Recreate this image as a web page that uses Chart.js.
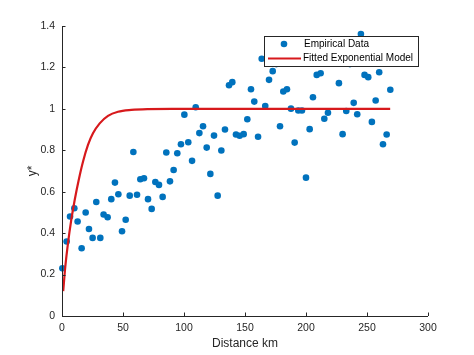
<!DOCTYPE html>
<html><head><meta charset="utf-8">
<style>html,body{margin:0;padding:0;background:#fff}#wrap{width:474px;height:355px}</style>
<script src="https://cdn.jsdelivr.net/npm/chart.js@4/dist/chart.umd.min.js"></script>
</head><body><div id="wrap"><canvas id="c" width="474" height="355"></canvas></div>
<script>
const empDistance = [0.3,3.8,6.6,10.1,12.8,16.1,19.4,22.1,25.1,28.1,31.4,34.1,37.4,40.4,43.4,46.2,49.2,52.2,55.5,58.5,61.5,64.2,67.2,70.5,73.5,76.5,79.5,82.5,85.5,88.5,91.5,94.5,97.5,100.3,103.5,106.6,109.6,112.6,115.6,118.6,121.6,124.6,127.6,130.6,133.6,136.9,139.6,142.6,145.6,148.9,151.9,154.9,157.6,160.7,163.7,166.6,169.7,172.7,175.7,178.7,181.4,184.4,187.7,190.7,193.7,196.7,200,203,205.7,208.8,212,215,218,227,230,233,236,239.1,242,245,248,251,254,257.1,260,263.1,266.1,269.1];
const empValue = [0.23,0.36,0.48,0.52,0.456,0.327,0.50,0.42,0.377,0.55,0.377,0.49,0.477,0.564,0.644,0.588,0.409,0.465,0.581,0.792,0.585,0.66,0.665,0.564,0.517,0.647,0.633,0.575,0.789,0.65,0.705,0.786,0.829,0.972,0.839,0.749,1.008,0.883,0.916,0.813,0.686,0.871,0.581,0.799,0.90,1.114,1.129,0.876,0.87,0.878,0.95,1.095,1.035,0.865,1.242,1.014,1.14,1.182,1.216,0.916,1.084,1.095,1.001,0.837,0.992,0.992,0.668,0.902,1.056,1.164,1.172,0.952,0.981,1.124,0.878,0.99,1.216,1.029,0.974,1.361,1.164,1.153,0.937,1.04,1.177,0.829,0.876,1.092];
const fitDistance = [1,2.7,4.9,7.6,10.4,13.7,17.2,21.3,25.4,30.9,37.7,45.9,56.8,70,90,120,170,220,269];
const fitValue = [0.12,0.238,0.351,0.464,0.56,0.657,0.745,0.826,0.882,0.93,0.966,0.986,0.995,0.999,1,1,1,1,1];
const xTicks = [0,50,100,150,200,250,300];
const yTicks = [0,0.2,0.4,0.6,0.8,1,1.2,1.4];
const seriesNames = ['Empirical Data','Fitted Exponential Model'];
const xTitle = 'Distance km';
const yTitle = 'y*';

const AX = '#262626';
const FONT = '"Liberation Sans", Arial, sans-serif';

const empPts = empDistance.map((x,i)=>({x:x,y:empValue[i]}));
const fitPts = fitDistance.map((x,i)=>({x:x,y:fitValue[i]}));
const fmt = v => String(Number(Number(v).toFixed(1)));

const decor = {
  id:'decor',
  afterDatasetsDraw(chart){
    const ctx = chart.ctx, ca = chart.chartArea;
    const xs = chart.scales.x, ys = chart.scales.y;
    ctx.save();
    ctx.strokeStyle = AX; ctx.lineWidth = 1;
    ctx.beginPath();
    ctx.moveTo(ca.left+0.5, ca.top); ctx.lineTo(ca.left+0.5, ca.bottom+0.5);
    ctx.lineTo(ca.right, ca.bottom+0.5);
    ctx.stroke();
    ctx.beginPath();
    xTicks.forEach(v=>{const p=Math.round(xs.getPixelForValue(v))+0.5; ctx.moveTo(p, ca.bottom); ctx.lineTo(p, ca.bottom-3.5);});
    yTicks.forEach(v=>{const p=Math.round(ys.getPixelForValue(v))+0.5; ctx.moveTo(ca.left, p); ctx.lineTo(ca.left+3.5, p);});
    ctx.stroke();
    ctx.fillStyle = AX;
    ctx.font = '12px ' + FONT;
    ctx.textAlign = 'center'; ctx.textBaseline = 'middle';
    ctx.fillText(xTitle, (ca.left+ca.right)/2, 344);
    ctx.save();
    ctx.translate(33, (ca.top+ca.bottom)/2);
    ctx.rotate(-Math.PI/2);
    ctx.fillText(yTitle, 0, 0);
    ctx.restore();
    const bx=264.5, by=36.5, bw=154, bh=30;
    ctx.fillStyle='#fff'; ctx.fillRect(bx,by,bw,bh);
    ctx.strokeStyle='#262626'; ctx.lineWidth=1; ctx.strokeRect(bx,by,bw,bh);
    ctx.fillStyle='#0072BD';
    ctx.beginPath(); ctx.arc(284,44,3.3,0,Math.PI*2); ctx.fill();
    ctx.strokeStyle='#D7191C'; ctx.lineWidth=2.2;
    ctx.beginPath(); ctx.moveTo(268,58.5); ctx.lineTo(301,58.5); ctx.stroke();
    ctx.fillStyle='#000'; ctx.font='10px '+FONT; ctx.textAlign='left'; ctx.textBaseline='middle';
    ctx.fillText(seriesNames[0], 304, 44.5);
    ctx.fillText(seriesNames[1], 303, 58.5);
    ctx.restore();
  }
};

new Chart(document.getElementById('c'), {
  type:'scatter',
  data:{datasets:[
    {label:seriesNames[0], data:empPts, backgroundColor:'#0072BD', borderColor:'#0072BD', pointRadius:3.3, pointBorderWidth:0, showLine:false, order:2, clip:false},
    {label:seriesNames[1], data:fitPts, type:'line', borderColor:'#D7191C', borderWidth:2.2, pointRadius:0, fill:false, cubicInterpolationMode:'monotone', order:1, clip:false}
  ]},
  options:{
    responsive:false, animation:false, devicePixelRatio:1,
    layout:{padding:{top:26,right:46,left:0,bottom:0}},
    plugins:{legend:{display:false}, tooltip:{enabled:false}},
    scales:{
      x:{type:'linear', min:0, max:300, afterBuildTicks:s=>{s.ticks=xTicks.map(v=>({value:v}));},
         afterFit:s=>{s.height=39;},
         grid:{display:false, drawTicks:false}, border:{display:false},
         ticks:{padding:6, color:AX, font:{family:FONT, size:10.5}, maxRotation:0, callback:v=>fmt(v)}},
      y:{type:'linear', min:0, max:1.4, afterBuildTicks:s=>{s.ticks=yTicks.map(v=>({value:v}));},
         afterFit:s=>{s.width=62;},
         grid:{display:false, drawTicks:false}, border:{display:false},
         ticks:{padding:7, color:AX, font:{family:FONT, size:10.5}, callback:v=>fmt(v)}}
    }
  },
  plugins:[decor]
});
</script></body></html>
